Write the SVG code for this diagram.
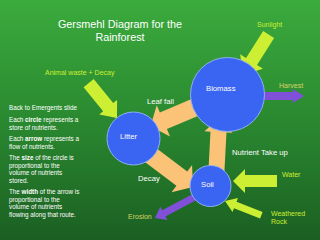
<svg xmlns="http://www.w3.org/2000/svg" width="320" height="240" viewBox="0 0 320 240">
<defs>
<linearGradient id="bg" x1="0" y1="0" x2="0" y2="1">
<stop offset="0" stop-color="#3bab3d"/>
<stop offset="0.5" stop-color="#2a8930"/>
<stop offset="1" stop-color="#1b5f22"/>
</linearGradient>
<style>
text{font-family:"Liberation Sans",Arial,sans-serif}
.w{fill:#ffffff;font-size:7.7px}
.y{fill:#ccee33;font-size:7px}
.k{fill:#d8d468;font-size:7px}
.side{fill:#ffffff;font-size:6.3px}
.title{fill:#ffffff;font-size:10.8px}
.node{fill:#3a64f2;stroke:#8fb0f0;stroke-width:1}
.ag{fill:#ccee33}
.ap{fill:#fbc378}
.av{fill:#8050d8}
</style>
</defs>
<rect width="320" height="240" fill="url(#bg)"/>
<g id="title">
<text class="title" x="120" y="28" text-anchor="middle">Gersmehl Diagram for the</text>
<text class="title" x="120" y="41" text-anchor="middle">Rainforest</text>
</g>
<g id="notes" class="side">
<text class="side" x="9" y="110">Back to Emergents slide</text>
<text class="side" x="9" y="122">Each <tspan font-weight="bold">circle</tspan> represents a</text>
<text class="side" x="9" y="129.5">store of nutrients.</text>
<text class="side" x="9" y="141">Each <tspan font-weight="bold">arrow</tspan> represents a</text>
<text class="side" x="9" y="148.5">flow of nutrients.</text>
<text class="side" x="9" y="160">The <tspan font-weight="bold">size</tspan> of the circle is</text>
<text class="side" x="9" y="167.5">proportional to the</text>
<text class="side" x="9" y="175">volume of nutrients</text>
<text class="side" x="9" y="182.5">stored.</text>
<text class="side" x="9" y="194">The <tspan font-weight="bold">width</tspan> of the arrow is</text>
<text class="side" x="9" y="201.5">proportional to the</text>
<text class="side" x="9" y="209">volume of nutrients</text>
<text class="side" x="9" y="216.5">flowing along that route.</text>
</g>
<g id="connectors">
<polygon class="ag" transform="translate(117,118) rotate(50.9)" points="-45,-6.5 -14,-6.5 -14,-11.5 0,0 -14,11.5 -14,6.5 -45,6.5"/>
<polygon class="ag" transform="translate(243,75) rotate(122.3)" points="-48,-6.5 -16,-6.5 -16,-13.5 0,0 -16,13.5 -16,6.5 -48,6.5"/>
<polygon class="av" transform="translate(304,96) rotate(0)" points="-50,-4 -11,-4 -11,-7 0,0 -11,7 -11,4 -50,4"/>
<polygon class="ap" transform="translate(150.5,126.3) rotate(157)" points="-58,-9 -14,-9 -14,-17 0,0 -14,17 -14,9 -58,9"/>
<polygon class="ap" transform="translate(193,187) rotate(37)" points="-65,-9 -14,-9 -14,-17 0,0 -14,17 -14,9 -65,9"/>
<polygon class="ap" transform="translate(219.2,118.1) rotate(-87)" points="-62,-8 -14,-8 -14,-14 0,0 -14,14 -14,8 -62,8"/>
<polygon class="av" transform="translate(155,218) rotate(152)" points="-51,-3.5 -10,-3.5 -10,-7.5 0,0 -10,7.5 -10,3.5 -51,3.5"/>
<polygon class="ag" transform="translate(233,181) rotate(180)" points="-44,-6 -12,-6 -12,-12 0,0 -12,12 -12,6 -44,6"/>
<polygon class="ag" transform="translate(225,201) rotate(201.3)" points="-39,-3.5 -11,-3.5 -11,-7.5 0,0 -11,7.5 -11,3.5 -39,3.5"/>
<text class="y" x="45" y="75">Animal waste + Decay</text>
<text class="y" x="257" y="27">Sunlight</text>
<text class="k" x="279" y="88">Harvest</text>
<text class="w" x="147" y="104">Leaf fall</text>
<text class="w" x="138" y="181">Decay</text>
<text class="w" x="232" y="155">Nutrient Take up</text>
<text class="k" x="128" y="219">Erosion</text>
<text class="y" x="282" y="177">Water</text>
<text class="y" x="271" y="216">Weathered</text>
<text class="y" x="271" y="224">Rock</text>
</g>
<g id="biomass">
<circle class="node" cx="227.5" cy="94.5" r="37"/>
<text class="w" x="206" y="91">Biomass</text>
</g>
<g id="litter">
<circle class="node" cx="133.5" cy="138.5" r="26.5"/>
<text class="w" x="120" y="139">Litter</text>
</g>
<g id="soil">
<circle class="node" cx="210.5" cy="186" r="20.5"/>
<text class="w" x="201" y="187">Soil</text>
</g>
</svg>
